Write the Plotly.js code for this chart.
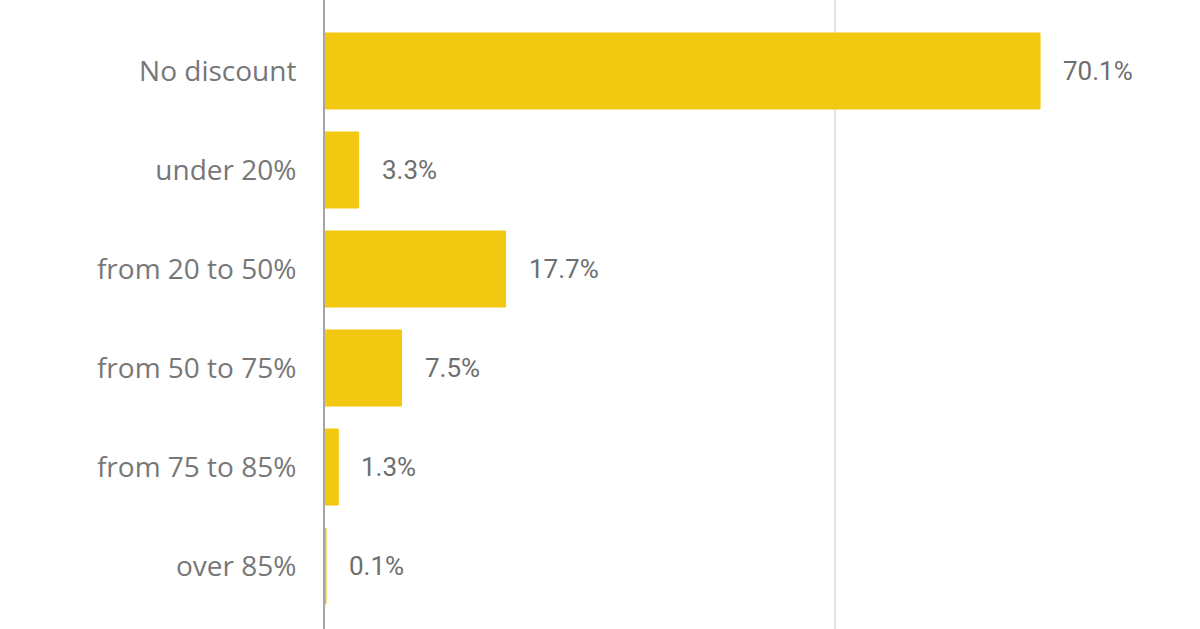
<!DOCTYPE html>
<html>
<head>
<meta charset="utf-8">
<script src="https://cdn.plot.ly/plotly-3.0.1.min.js"></script>
<style>
  html, body { margin: 0; padding: 0; background: #fff; }
  #chart { width: 1200px; height: 629px; }
</style>
</head>
<body>
<div id="chart"></div>
<script>
const categories = ["No discount", "under 20%", "from 20 to 50%", "from 50 to 75%", "from 75 to 85%", "over 85%"];
const shares = [70.1, 3.3, 17.7, 7.5, 1.3, 0.1];
const shareLabels = ["70.1%", "3.3%", "17.7%", "7.5%", "1.3%", "0.1%"];

const trace = {
  type: "bar",
  orientation: "h",
  x: shares,
  y: categories,
  marker: { color: "#F2C811", line: { color: "#F2C811", width: 1 } },
  hoverinfo: "none"
};

// value labels sit a bit away from the bar end
const annotations = categories.map((c, i) => ({
  x: shares[i],
  y: c,
  xref: "x",
  yref: "y",
  text: shareLabels[i],
  showarrow: false,
  xanchor: "left",
  yanchor: "middle",
  xshift: 21,
  font: { family: "Roboto", size: 26, color: "#6e6e6e" }
}));

const layout = {
  width: 1200,
  height: 629,
  margin: { l: 325, r: 0, t: 0, b: 0 },
  paper_bgcolor: "#ffffff",
  plot_bgcolor: "#ffffff",
  bargap: 0.232,
  showlegend: false,
  xaxis: {
    range: [0, 85.78],
    dtick: 50,
    showgrid: true,
    gridcolor: "#e3e3e3",
    gridwidth: 2,
    zeroline: false,
    showticklabels: false,
    fixedrange: true
  },
  yaxis: {
    range: [5.636, -0.717],
    showline: true,
    linecolor: "#a6a6a6",
    linewidth: 2,
    ticks: "",
    ticklabelstandoff: 21,
    showgrid: false,
    tickfont: { family: "Open Sans", size: 28, color: "#777777" },
    fixedrange: true
  },
  annotations: annotations
};

Plotly.newPlot("chart", [trace], layout, { displayModeBar: false, staticPlot: true });
</script>
</body>
</html>
